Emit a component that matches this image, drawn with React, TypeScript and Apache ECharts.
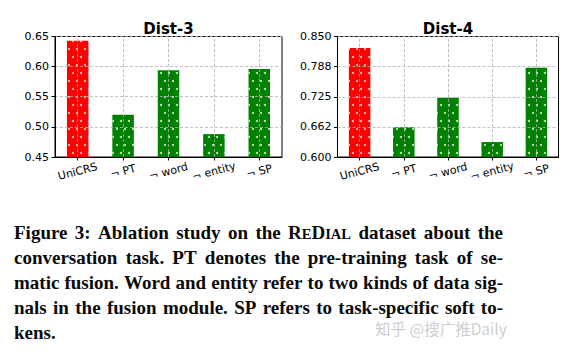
import React, { useEffect, useRef } from 'react';
import * as echarts from 'echarts';

// ---- data ----
const categories = ['UniCRS', '¬ PT', '¬ word', '¬ entity', '¬ SP'];
const dist3Values = [0.643, 0.52, 0.594, 0.488, 0.596];
const dist4Values = [0.826, 0.662, 0.723, 0.631, 0.785];
const dist3Ticks = ['0.45', '0.50', '0.55', '0.60', '0.65'];
const dist4Ticks = ['0.600', '0.662', '0.725', '0.788', '0.850'];
const dist3Range = { min: 0.45, max: 0.65, interval: 0.05 };
const dist4Range = { min: 0.6, max: 0.85, interval: 0.0625 };
const panelTitles = ['Dist-3', 'Dist-4'];
const barColors = ['#ff0000', '#008000', '#008000', '#008000', '#008000'];
const captionLines = [
  'Figure 3: Ablation study on the ReDial dataset about the',
  'conversation task. PT denotes the pre-training task of se-',
  'matic fusion. Word and entity refer to two kinds of data sig-',
  'nals in the fusion module. SP refers to task-specific soft to-',
  'kens.',
];
const watermarkText = '知乎 @搜广推Daily';

const GRIDS = [
  { left: 55, top: 36.5, width: 227, height: 120.5 },
  { left: 337.5, top: 36.5, width: 221, height: 120.5 },
];

const gridLineStyle = { color: '#b0b0b0', type: [3, 2] as any, width: 0.8 };

const decal = {
  symbol: 'circle',
  symbolSize: 1,
  color: 'rgba(255,255,255,0.85)',
  dashArrayX: [
    [2, 6],
    [0, 4, 2, 2],
  ],
  dashArrayY: [2, 6],
  rotation: 0,
};

function buildCaption(): any[] {
  const canvas = document.createElement('canvas');
  const ctx = canvas.getContext('2d')!;
  const FS = 19;
  const SMALL = 14.5;
  const family = '"Liberation Serif", serif';
  const fontOf = (fs: number) => `bold ${fs}px ${family}`;
  const measure = (t: string, fs: number) => {
    ctx.font = fontOf(fs);
    return ctx.measureText(t).width;
  };
  const LEFT = 14;
  const RIGHT = 503;
  const baselines = [239, 264, 289, 314, 339];
  const els: any[] = [];
  captionLines.forEach((line, li) => {
    const words = line.split(' ');
    const pieces = words.map((w) => {
      if (w === 'ReDial') {
        return [
          { t: 'R', fs: FS },
          { t: 'E', fs: SMALL },
          { t: 'D', fs: FS },
          { t: 'IAL', fs: SMALL },
        ];
      }
      return [{ t: w, fs: FS }];
    });
    const widths = pieces.map((p) => p.reduce((s, q) => s + measure(q.t, q.fs), 0));
    const total = widths.reduce((a, b) => a + b, 0);
    const last = li === captionLines.length - 1;
    const gap = last || words.length < 2 ? measure(' ', FS) : (RIGHT - LEFT - total) / (words.length - 1);
    let x = LEFT;
    const base = baselines[li];
    pieces.forEach((p, wi) => {
      let px = x;
      p.forEach((q) => {
        els.push({
          type: 'text',
          x: px,
          y: base - 0.34 * q.fs,
          silent: true,
          style: {
            text: q.t,
            font: fontOf(q.fs),
            fill: '#0a0a0a',
            align: 'left',
            verticalAlign: 'middle',
          },
        });
        px += measure(q.t, q.fs);
      });
      x += widths[wi] + gap;
    });
  });
  return els;
}

function makeSeries(idx: number, values: number[]) {
  return {
    type: 'bar',
    xAxisIndex: idx,
    yAxisIndex: idx,
    barWidth: 21.5,
    silent: true,
    data: values.map((v, i) => ({
      value: v,
      itemStyle: { color: barColors[i], decal },
    })),
    markLine: {
      silent: true,
      symbol: 'none',
      label: { show: false },
      lineStyle: gridLineStyle,
      data: categories.map((c) => ({ xAxis: c })),
    },
  };
}

function makeYAxis(idx: number, range: any, ticks: string[]) {
  return {
    type: 'value',
    gridIndex: idx,
    min: range.min,
    max: range.max,
    interval: range.interval,
    z: 3,
    axisLine: { show: true, lineStyle: { color: '#000', width: 1 } },
    axisTick: { show: true, length: 3.5, lineStyle: { color: '#000' } },
    axisLabel: {
      fontSize: 11,
      color: '#000',
      fontFamily: 'DejaVu Sans',
      margin: 6,
      formatter: (v: number) => ticks[Math.round((v - range.min) / range.interval)] ?? '',
    },
    splitLine: { show: true, lineStyle: gridLineStyle },
  };
}

function makeXAxis(idx: number) {
  return {
    type: 'category',
    gridIndex: idx,
    data: categories,
    z: 3,
    axisLine: { show: true, lineStyle: { color: '#000', width: 1 } },
    axisTick: { show: true, alignWithLabel: true, length: 3.5, lineStyle: { color: '#000' } },
    axisLabel: {
      rotate: 15,
      fontSize: 11,
      color: '#000',
      fontFamily: 'DejaVu Sans',
      margin: 14.5,
      align: 'center',
      verticalAlign: 'middle',
      interval: 0,
    },
    splitLine: { show: false },
  };
}

export default function App() {
  const ref = useRef<HTMLDivElement>(null);
  useEffect(() => {
    if (!ref.current) return;
    const chart = echarts.init(ref.current, null, { renderer: 'svg' });
    const titleEls = panelTitles.map((t, i) => ({
      type: 'text',
      x: GRIDS[i].left + GRIDS[i].width / 2,
      y: 28.8,
      silent: true,
      style: {
        text: t,
        font: 'bold 15px "DejaVu Sans"',
        fill: '#000',
        align: 'center',
        verticalAlign: 'middle',
      },
    }));
    const watermark = {
      type: 'text',
      x: 375,
      y: 328,
      silent: true,
      style: {
        text: watermarkText,
        font: '15.5px "Noto Sans CJK SC"',
        fill: 'rgba(200,200,200,0.9)',
        align: 'left',
        verticalAlign: 'middle',
      },
    };
    chart.setOption({
      animation: false,
      backgroundColor: '#fff',
      textStyle: { fontFamily: 'DejaVu Sans' },
      grid: GRIDS.map((g) => ({
        ...g,
        show: true,
        borderColor: '#000',
        borderWidth: 1,
        backgroundColor: 'transparent',
        containLabel: false,
      })),
      xAxis: [makeXAxis(0), makeXAxis(1)],
      yAxis: [makeYAxis(0, dist3Range, dist3Ticks), makeYAxis(1, dist4Range, dist4Ticks)],
      series: [makeSeries(0, dist3Values), makeSeries(1, dist4Values)],
      graphic: [...titleEls, ...buildCaption(), watermark],
    });
    return () => chart.dispose();
  }, []);
  return (
    <div
      ref={ref}
      style={{ position: 'fixed', left: 0, top: 0, width: 588, height: 356, background: '#fff' }}
    />
  );
}
